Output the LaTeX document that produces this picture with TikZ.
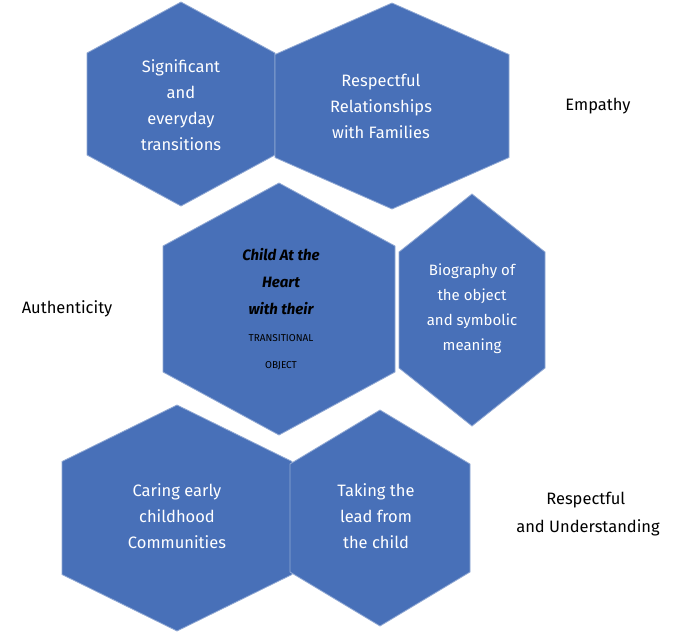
\documentclass[tikz,border=0pt]{standalone}
\usepackage{fontspec}
\setmainfont{Fira Sans}
\definecolor{hexblue}{RGB}{72,112,184}
\tikzset{
  hexfill/.style={fill=hexblue},
  hextext/.style={text=white,align=center,font=\fontsize{16.5}{26}\selectfont},
  sidetext/.style={text=black,align=center,font=\fontsize{16.5}{28}\selectfont}
}
\newcommand{\myhex}[4]{%
  \fill[hexfill] (#1,#2-#4) -- (#1+#3,#2-#4/2) -- (#1+#3,#2+#4/2) -- (#1,#2+#4) -- (#1-#3,#2+#4/2) -- (#1-#3,#2-#4/2) -- cycle;
  \draw[hexblue!60!white,line width=0.8pt] (#1,#2-#4) -- (#1+#3,#2-#4/2) -- (#1+#3,#2+#4/2) -- (#1,#2+#4) -- (#1-#3,#2+#4/2) -- (#1-#3,#2-#4/2) -- cycle;}
\newcommand{\smalltx}[1]{{\fontsize{10}{24}\selectfont\mdseries\upshape #1}}
\begin{document}
\begin{tikzpicture}[x=1pt,y=-1pt]
\useasboundingbox[fill=white] (0,0) rectangle (685,635);
\myhex{181}{104}{94}{102}
\myhex{392}{106}{117}{103}
\myhex{279}{309}{116}{126}
\myhex{472}{310}{73}{116}
\myhex{177}{518}{115}{113}
\myhex{380}{518}{90}{108}
\node[hextext] (a) at (181,105) {Significant\\and\\everyday\\transitions};
\node[align=center,text=black,font=\fontsize{15}{27}\selectfont\bfseries\itshape] (c) at (281,309) {Child At the\\Heart\\with their\\\smalltx{TRANSITIONAL}\\\smalltx{OBJECT}};
\node[hextext] (b) at (381,106) {Respectful\\Relationships\\with Families};
\node[hextext,font=\fontsize{15}{25}\selectfont] (d) at (472,309) {Biography of\\the object\\and symbolic\\meaning};
\node[hextext] (e) at (177,516) {Caring early\\childhood\\Communities};
\node[hextext] (f) at (376,516) {Taking the\\lead from\\the child};
\node[sidetext] (g) at (598,106) {Empathy};
\node[sidetext] (h) at (67,309) {Authenticity};
\node[sidetext,align=left] (i) at (588,514) {\hspace*{30pt}Respectful\\and Understanding};
\end{tikzpicture}
\end{document}
